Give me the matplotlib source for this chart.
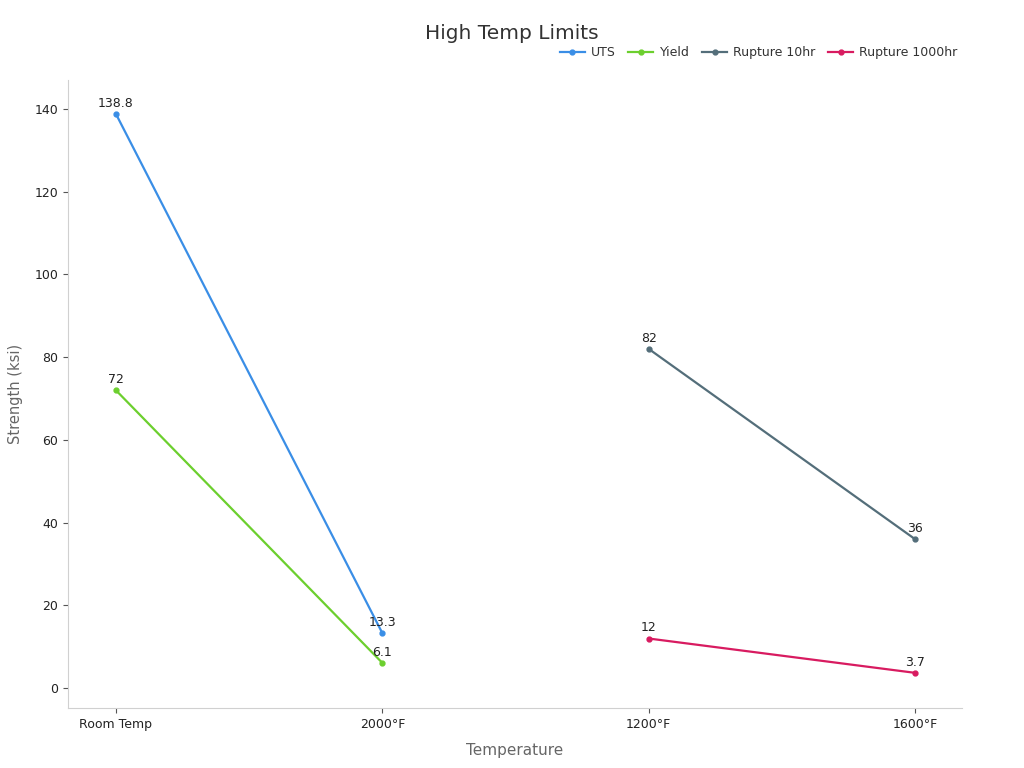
import matplotlib
matplotlib.use("Agg")
import matplotlib.pyplot as plt
import numpy as np

categories = ["Room Temp", "2000°F", "1200°F", "1600°F"]
uts = [138.8, 13.3, None, None]
yield_ = [72, 6.1, None, None]
rupture10 = [None, None, 82, 36]
rupture1000 = [None, None, 12, 3.7]

series = [
    ("UTS", uts, "#3a8ee6"),
    ("Yield", yield_, "#6ccf2e"),
    ("Rupture 10hr", rupture10, "#546e7a"),
    ("Rupture 1000hr", rupture1000, "#d81b60"),
]

fig = plt.figure(figsize=(10.24, 7.68), dpi=100)
ax = fig.add_axes([0.0664, 0.0781, 0.8731, 0.8177])

x = np.arange(len(categories))
for name, vals, color in series:
    xs = [xi for xi, v in zip(x, vals) if v is not None]
    ys = [v for v in vals if v is not None]
    ax.plot(xs, ys, color=color, lw=1.6, marker="o", ms=3.5, label=name)
    for xi, yi in zip(xs, ys):
        ax.annotate(f"{yi:g}", (xi, yi), textcoords="offset points", xytext=(0, 3),
                    ha="center", va="bottom", fontsize=9, color="#222222")

ax.set_xlim(-0.18, 3.176)
ax.set_ylim(-4.8, 147)
ax.set_xticks(x)
ax.set_xticklabels(categories, fontsize=9, color="#222222")
ax.set_yticks([0, 20, 40, 60, 80, 100, 120, 140])
ax.tick_params(axis="y", labelsize=9, labelcolor="#222222", color="#555555")
ax.tick_params(axis="x", color="#555555")
for s in ["top", "right"]:
    ax.spines[s].set_visible(False)
for s in ["left", "bottom"]:
    ax.spines[s].set_color("#d0d0d0")

ax.set_xlabel("Temperature", fontsize=11, color="#666666", labelpad=9)
ax.set_ylabel("Strength (ksi)", fontsize=10.5, color="#666666", labelpad=8)
fig.text(0.5, 0.956, "High Temp Limits", ha="center", va="center", fontsize=14.5, color="#333333")
fig.legend(loc="center right", bbox_to_anchor=(0.94, 0.931), ncol=4, frameon=False,
           fontsize=9, handlelength=2.0, columnspacing=1.0, handletextpad=0.5,
           borderaxespad=0.0, labelcolor="#333333")

fig.savefig("out.png", dpi=100)
